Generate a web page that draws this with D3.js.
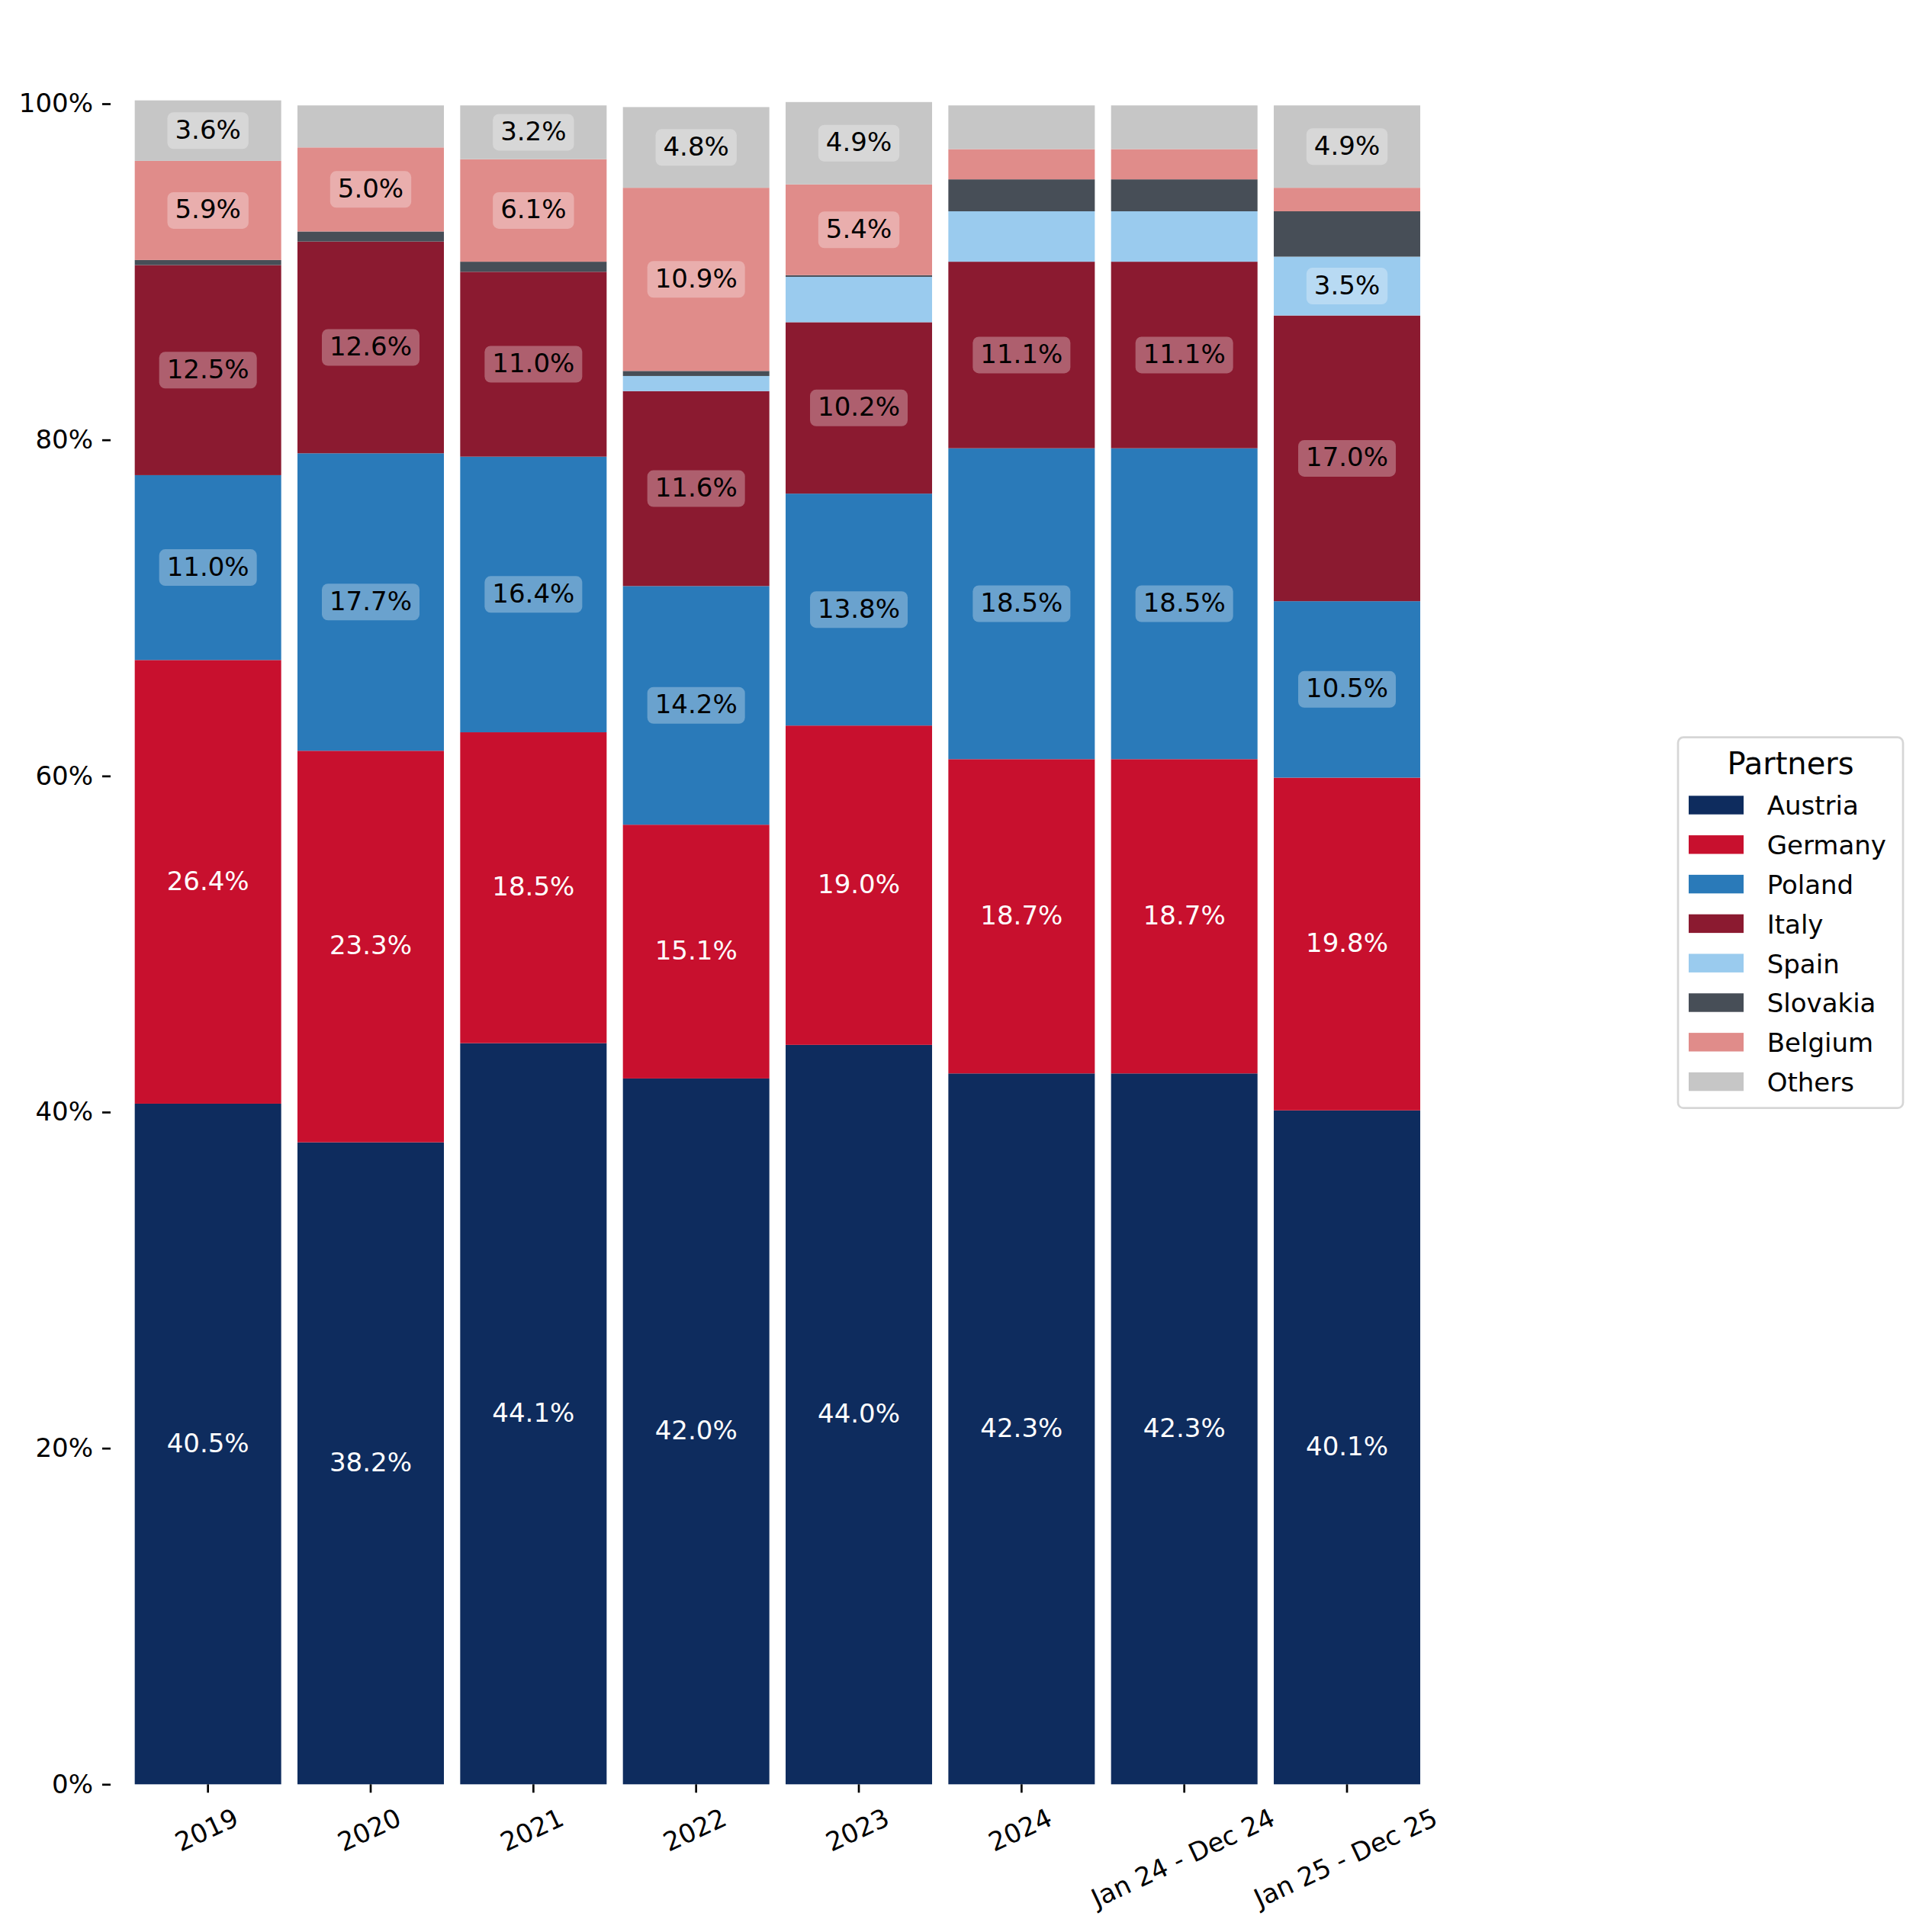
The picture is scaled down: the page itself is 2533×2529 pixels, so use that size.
<!DOCTYPE html>
<html>
<head>
<meta charset="utf-8">
<script src="https://cdn.jsdelivr.net/npm/d3@7"></script>
<style>
  html, body { margin: 0; padding: 0; background: #ffffff; }
  svg { display: block; font-family: "DejaVu Sans", sans-serif; }
</style>
</head>
<body>
<script>
// ---- Data (percent shares) ----
const categories = ["2019", "2020", "2021", "2022", "2023", "2024", "Jan 24 - Dec 24", "Jan 25 - Dec 25"];
const partners = ["Austria", "Germany", "Poland", "Italy", "Spain", "Slovakia", "Belgium", "Others"];
const austria  = [40.5, 38.2, 44.1, 42.0, 44.0, 42.3, 42.3, 40.1];
const germany  = [26.4, 23.3, 18.5, 15.1, 19.0, 18.7, 18.7, 19.8];
const poland   = [11.0, 17.7, 16.4, 14.2, 13.8, 18.5, 18.5, 10.5];
const italy    = [12.5, 12.6, 11.0, 11.6, 10.2, 11.1, 11.1, 17.0];
const spain    = [0.0, 0.0, 0.0, 0.9, 2.7, 3.0, 3.0, 3.5];
const slovakia = [0.3, 0.6, 0.6, 0.3, 0.1, 1.9, 1.9, 2.7];
const belgium  = [5.9, 5.0, 6.1, 10.9, 5.4, 1.8, 1.8, 1.4];
const others   = [3.6, 2.5, 3.2, 4.8, 4.9, 2.6, 2.6, 4.9];
const yTicks = [0, 20, 40, 60, 80, 100];
const colors = ["#0E2C5E", "#C8102E", "#2A7AB9", "#8B1A30", "#9ACBEE", "#474E57", "#E08C8A", "#C6C6C6"];

const seriesValues = [austria, germany, poland, italy, spain, slovakia, belgium, others];
const table = categories.map((c, i) => {
  const row = { category: c };
  partners.forEach((p, k) => row[p] = seriesValues[k][i]);
  return row;
});

// ---- Layout ----
const W = 2533, H = 2529;
const FS = 34;
const svg = d3.select("body").append("svg").attr("width", W).attr("height", H);
svg.append("rect").attr("width", W).attr("height", H).attr("fill", "#fff");

const x = d3.scaleBand().domain(categories).range([166, 1872.7]).paddingInner(0.1).paddingOuter(0.05);
const y = d3.scaleLinear().domain([0, 100]).range([2339.3, 136]);
const color = d3.scaleOrdinal().domain(partners).range(colors);

const stacked = d3.stack().keys(partners)(table);

// bars
const layers = svg.append("g").selectAll("g").data(stacked).join("g")
  .attr("fill", d => color(d.key));
layers.selectAll("rect").data(d => d.map(s => ({ s, key: d.key })))
  .join("rect")
  .attr("x", d => x(d.s.data.category))
  .attr("width", x.bandwidth())
  .attr("y", d => y(d.s[1]))
  .attr("height", d => Math.max(0, y(d.s[0]) - y(d.s[1])));

// labels
const labelG = svg.append("g");
stacked.forEach(layer => {
  layer.forEach(s => {
    const v = s[1] - s[0];
    const key = layer.key;
    if (v <= 3.05) return;
    const cx = x(s.data.category) + x.bandwidth() / 2;
    const cy = (y(s[0]) + y(s[1])) / 2;
    const txt = s.data[key].toFixed(1) + "%";
    const light = (key === "Austria" || key === "Germany");
    const g = labelG.append("g");
    const t = g.append("text")
      .attr("x", cx).attr("y", cy + 10.5)
      .attr("text-anchor", "middle")
      .attr("font-size", FS)
      .attr("fill", light ? "#ffffff" : "#000000")
      .text(txt);
    if (!light) {
      const w = t.node().getComputedTextLength();
      g.insert("rect", "text")
        .attr("x", cx - w / 2 - 10).attr("y", cy - 24)
        .attr("width", w + 20).attr("height", 48)
        .attr("rx", 8).attr("ry", 8)
        .attr("fill", "#ffffff").attr("fill-opacity", 0.3);
    }
  });
});

// y axis
const yAxis = svg.append("g").attr("transform", "translate(145,0)")
  .call(d3.axisLeft(y).tickValues(yTicks).tickFormat(d => d + "%").tickSize(11).tickPadding(12));
yAxis.select(".domain").remove();
yAxis.selectAll(".tick line").attr("stroke", "#000").attr("stroke-width", 2.7);
yAxis.selectAll(".tick text").attr("font-size", FS).attr("fill", "#000")
  .attr("font-family", "DejaVu Sans, sans-serif");

// x axis
const xAxis = svg.append("g").attr("transform", `translate(0,${y(0)})`)
  .call(d3.axisBottom(x).tickSize(11).tickPadding(0));
xAxis.select(".domain").remove();
xAxis.selectAll(".tick line").attr("stroke", "#000").attr("stroke-width", 2.7);
const ang = 25 * Math.PI / 180;
xAxis.selectAll(".tick text")
  .attr("font-size", FS).attr("fill", "#000")
  .attr("font-family", "DejaVu Sans, sans-serif")
  .each(function () {
    const w = this.getComputedTextLength();
    const h = 40;
    const Hb = w * Math.sin(ang) + h * Math.cos(ang);
    d3.select(this)
      .attr("x", 0).attr("y", 0).attr("dy", "0.36em")
      .attr("text-anchor", "middle")
      .attr("transform", `translate(-2,${11 + 12 + Hb / 2}) rotate(-25)`);
  });

// legend
const lg = svg.append("g");
lg.append("rect").attr("x", 2200).attr("y", 966.7).attr("width", 295).attr("height", 486)
  .attr("rx", 7).attr("ry", 7)
  .attr("fill", "#fff").attr("stroke", "#d6d6d6").attr("stroke-width", 2.7);
lg.append("text").attr("x", 2347.5).attr("y", 1015).attr("text-anchor", "middle")
  .attr("font-size", 40).attr("fill", "#000").text("Partners");
const items = lg.selectAll("g.item").data(partners).join("g").attr("class", "item")
  .attr("transform", (d, i) => `translate(0,${1043.3 + i * 51.8})`);
items.append("rect").attr("x", 2214).attr("y", 0).attr("width", 72).attr("height", 24.4)
  .attr("fill", d => color(d));
items.append("text").attr("x", 2316.7).attr("y", 25).attr("font-size", FS).attr("fill", "#000")
  .text(d => d);
</script>
</body>
</html>
